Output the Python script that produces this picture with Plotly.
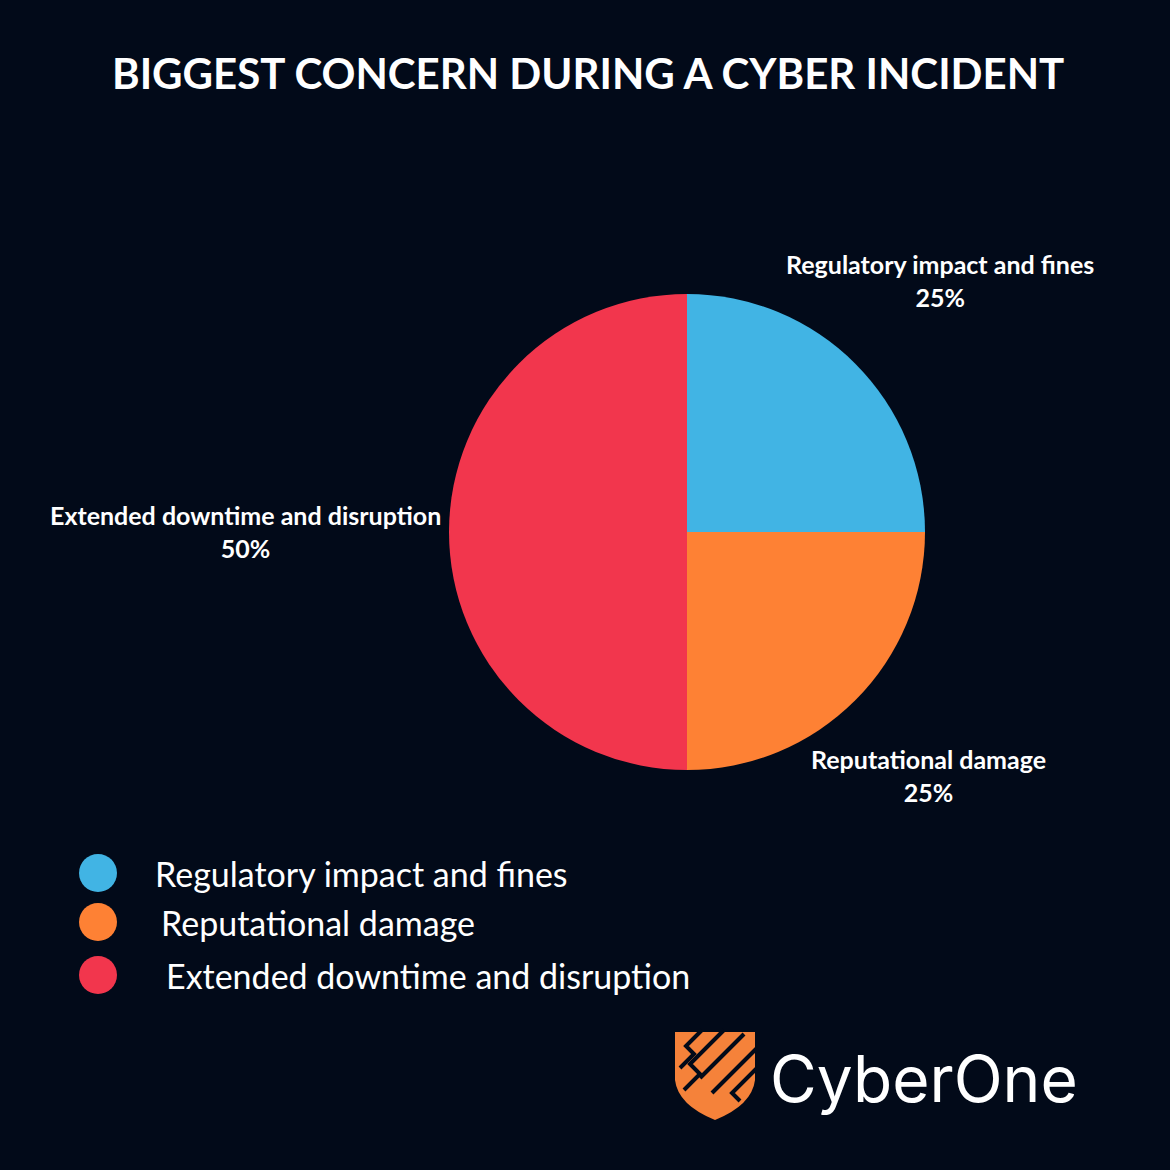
import plotly.graph_objects as go

title = "BIGGEST CONCERN DURING A CYBER INCIDENT"
labels = ["Regulatory impact and fines", "Reputational damage", "Extended downtime and disruption"]
values = [25, 25, 50]
colors = ["#41b4e4", "#fe8134", "#f2364d"]
bg = "#020a19"

fig = go.Figure(go.Pie(
    labels=labels, values=values, sort=False, direction="clockwise", rotation=0,
    marker=dict(colors=colors, line=dict(width=0)),
    textinfo="none", hoverinfo="label+percent", showlegend=False,
    domain=dict(x=[449/1170, 925/1170], y=[1-770/1170, 1-294/1170]),
))

W = H = 1170
def px(x): return x / W
def py(y): return 1 - y / H

annotations = []
shapes = []
# slice labels
label_pos = [(940, 280), (928, 775), (245, 532)]
total = sum(values)
for lab, val, (x, y) in zip(labels, values, label_pos):
    annotations.append(dict(
        x=px(x), y=py(y), xref="paper", yref="paper", showarrow=False,
        text=f"<b>{lab}</b><br><b>{round(100*val/total)}%</b>",
        font=dict(family="Lato", size=25, color="white"), align="center",
        xanchor="center", yanchor="middle"))

# title
annotations.append(dict(x=px(588), y=py(73), xref="paper", yref="paper", showarrow=False,
    text=f"<b>{title}</b>", font=dict(family="Lato", size=42, color="white"),
    xanchor="center", yanchor="middle"))

# custom legend
leg_y = [873, 922, 975]
leg_tx = [153, 159, 164]
for lab, c, y, tx in zip(labels, colors, leg_y, leg_tx):
    shapes.append(dict(type="circle", xref="paper", yref="paper",
        x0=px(79), x1=px(117), y0=py(y+19), y1=py(y-19), fillcolor=c, line=dict(width=0)))
    annotations.append(dict(x=px(tx), y=py(y), xref="paper", yref="paper", showarrow=False,
        text=lab, font=dict(family="Lato", size=34, color="white"),
        xanchor="left", yanchor="middle"))

# logo shield
shield = "M {},{} L {},{} L {},{} Q {},{} {},{} Q {},{} {},{} Z".format(
    px(675), py(1032), px(755), py(1032), px(755), py(1080),
    px(752), py(1105), px(715), py(1120), px(678), py(1105), px(675), py(1080))
shapes.append(dict(type="path", xref="paper", yref="paper", path=shield,
                   fillcolor="#f5823a", line=dict(width=0)))
stripes = [
    [(702, 1030), (686, 1046), (694, 1054), (680, 1068)],
    [(724, 1030), (690, 1064), (700, 1074), (684, 1090)],
    [(744, 1034), (700, 1078)],
    [(757, 1048), (712, 1093)],
    [(757, 1068), (732, 1093), (740, 1101)],
]
for s in stripes:
    shapes.append(dict(type="path", xref="paper", yref="paper",
        path="M " + " L ".join(f"{px(x)},{py(y)}" for x, y in s),
        line=dict(color=bg, width=4)))
annotations.append(dict(x=px(768), y=py(1078), xref="paper", yref="paper", showarrow=False,
    text="CyberOne", font=dict(family="Inter", size=64, color="white"),
    xanchor="left", yanchor="middle"))

fig.update_layout(
    width=W, height=H, margin=dict(l=0, r=0, t=0, b=0),
    paper_bgcolor=bg, plot_bgcolor=bg,
    annotations=annotations, shapes=shapes,
)
fig.write_html("out.html", config={"displayModeBar": False},
    post_script="document.body.style.margin='0';document.body.style.background='%s';" % bg)
